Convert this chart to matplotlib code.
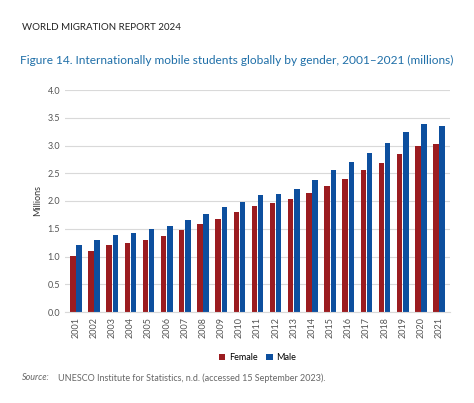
import matplotlib
matplotlib.use("Agg")
import matplotlib.pyplot as plt
import numpy as np

years = [str(y) for y in range(2001, 2022)]
female = [1.01,1.10,1.21,1.24,1.30,1.37,1.48,1.59,1.68,1.80,1.91,1.96,2.03,2.15,2.27,2.40,2.55,2.68,2.85,3.00,3.03]
male = [1.20,1.30,1.39,1.43,1.49,1.55,1.65,1.77,1.89,1.99,2.10,2.13,2.22,2.38,2.55,2.71,2.86,3.04,3.24,3.38,3.36]

plt.rcParams['font.family'] = ['Lato', 'DejaVu Sans']
fig = plt.figure(figsize=(4.74, 4.03), dpi=100)
ax = fig.add_axes([65/474, 1-312/403, 385/474, 222/403])
x = np.arange(len(years))
w = 0.3
ax.bar(x - 0.17, female, w, color='#9b1c20', label='Female')
ax.bar(x + 0.17, male, w, color='#0d4f9e', label='Male')
ax.set_ylim(0, 4.0)
ax.set_yticks(np.arange(0, 4.01, 0.5))
ax.set_yticklabels([f"{v:.1f}" for v in np.arange(0, 4.01, 0.5)], fontsize=6.5, color='#555555')
ax.set_xticks(x)
ax.set_xticklabels(years, rotation=90, fontsize=6.5, color='#555555')
ax.set_xlim(-0.6, len(years) - 0.4)
ax.grid(axis='y', color='#d9d9d9', linewidth=0.8)
ax.set_axisbelow(True)
for s in ['top', 'right', 'left']:
    ax.spines[s].set_visible(False)
ax.spines['bottom'].set_color('#d9d9d9')
ax.tick_params(length=0)
ax.set_ylabel('Millions', fontsize=6.5, color='#333333')
ax.legend(loc='upper center', bbox_to_anchor=(0.5, -0.15), ncol=2, frameon=False,
          fontsize=6.5, handlelength=0.7, handleheight=0.7, columnspacing=1.0, handletextpad=0.4)
fig.text(22/474, 1-27/403, 'WORLD MIGRATION REPORT 2024', fontsize=7, color='#222222', va='center')
fig.text(0.5, 1-60/403, 'Figure 14. Internationally mobile students globally by gender, 2001–2021 (millions)',
         fontsize=8.6, color='#1f6fa8', ha='center', va='center')
fig.text(22/474, 1-378/403, 'Source:', fontsize=6.5, color='#666666', style='italic', va='center')
fig.text(58/474, 1-378/403, 'UNESCO Institute for Statistics, n.d. (accessed 15 September 2023).',
         fontsize=6.5, color='#666666', va='center')
fig.savefig('out.png', dpi=100)
